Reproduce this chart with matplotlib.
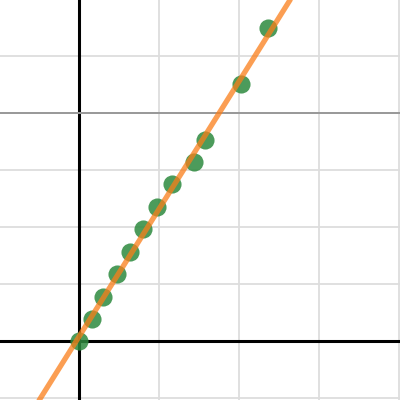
"""Scatter points with a fitted line on a Desmos-style grid."""

import numpy as np
from matplotlib import pyplot as plt

# data (grid units)
x_points = [0.0, 0.16, 0.30, 0.475, 0.64, 0.80, 0.975, 1.16, 1.44, 1.58, 2.02, 2.36]
y_points = [0.0, 0.39, 0.78, 1.175, 1.57, 1.96, 2.35, 2.75, 3.135, 3.53, 4.51, 5.49]
fit_slope = 2.239
fit_intercept = 0.076
ref_level = 4.0

x_min, x_max = -0.9875, 4.0125
y_min, y_max = -1.035, 5.982

fig = plt.figure(figsize=(4, 4), dpi=100)
ax = fig.add_axes([0, 0, 1, 1])
ax.set_xlim(x_min, x_max)
ax.set_ylim(y_min, y_max)

# grid
for gx in range(-1, 5):
	ax.axvline(gx, color="#dddddd", lw=1.3, zorder=0)
for gy in range(-1, 7):
	ax.axhline(gy, color="#dddddd", lw=1.3, zorder=0)

# axes
ax.axhline(0, color="black", lw=2.2, zorder=1)
ax.axvline(0, color="black", lw=2.2, zorder=1)

# reference level
ax.axhline(ref_level, color="#999999", lw=1.4, zorder=1)

ax.scatter(x_points, y_points, s=170, color="#2d8a3e", alpha=0.85, lw=0, zorder=2)

xs = np.array([x_min, x_max])
ax.plot(xs, fit_intercept + fit_slope * xs, color="#fa7e19", alpha=0.75, lw=3.8,
	solid_capstyle="butt", zorder=3)

for side in ax.spines.values():
	side.set_visible(False)
ax.set_xticks([])
ax.set_yticks([])

plt.savefig("out.png", dpi=100)
